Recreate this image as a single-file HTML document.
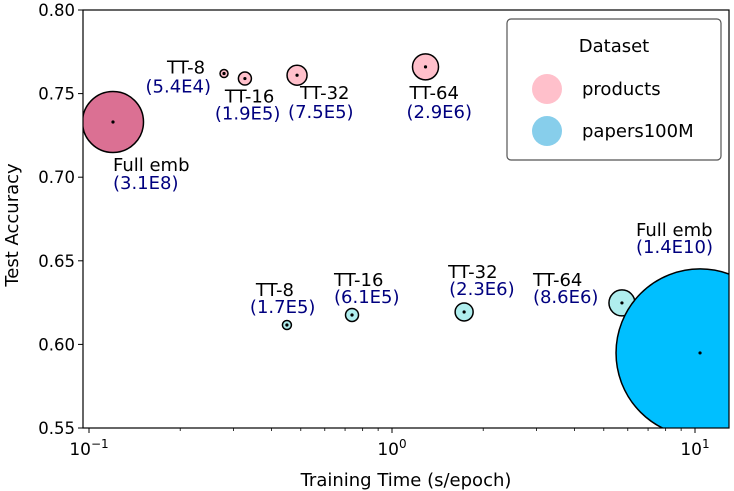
<!DOCTYPE html>
<html><head><meta charset="utf-8"><style>
body{margin:0;background:#fff}
svg{display:block;font-family:"DejaVu Sans","Liberation Sans",sans-serif}
</style></head><body>
<svg id="chart" width="734" height="491" viewBox="0 0 734 491" xmlns="http://www.w3.org/2000/svg"></svg>
<script>
const seriesNames = ["products", "papers100M"];
const prodLabels = ["Full emb", "TT-8", "TT-16", "TT-32", "TT-64"];
const prodParams = ["(3.1E8)", "(5.4E4)", "(1.9E5)", "(7.5E5)", "(2.9E6)"];
const prodTime = [0.12, 0.279, 0.327, 0.486, 1.29];
const prodAcc = [0.733, 0.762, 0.759, 0.761, 0.766];
const prodSize = [30.5, 4, 6.5, 10, 13];
const papLabels = ["TT-8", "TT-16", "TT-32", "TT-64", "Full emb"];
const papParams = ["(1.7E5)", "(6.1E5)", "(2.3E6)", "(8.6E6)", "(1.4E10)"];
const papTime = [0.45, 0.738, 1.73, 5.74, 10.39];
const papAcc = [0.6116, 0.6176, 0.6194, 0.6248, 0.5949];
const papSize = [4.5, 6.5, 9, 13, 84];
const yTicks = [0.55, 0.60, 0.65, 0.70, 0.75, 0.80];
const xDecades = [-1, 0, 1];

const NS = "http://www.w3.org/2000/svg";
const svg = document.getElementById("chart");
const L = 83, R = 729, T = 10, B = 428;
const FS = 18;
const xs = t => 392 + Math.log10(t) * 303;
const ys = v => B - (v - 0.55) / 0.25 * (B - T);
function el(tag, attrs, parent) {
  const e = document.createElementNS(NS, tag);
  for (const k in attrs) e.setAttribute(k, attrs[k]);
  (parent || svg).appendChild(e);
  return e;
}
function txt(s, x, y, attrs, parent) {
  const e = el("text", Object.assign({x: x, y: y, "font-size": FS}, attrs), parent);
  e.textContent = s;
  return e;
}
const defs = el("defs", {});
const cp = el("clipPath", {id: "clip"}, defs);
el("rect", {x: L, y: T, width: R - L, height: B - T}, cp);

const plot = el("g", {"clip-path": "url(#clip)"});



function drawSeries(times, accs, sizes, colorFn, name) {
  times.forEach((t, i) => {
    const c = el("circle", {cx: xs(t), cy: ys(accs[i]), r: sizes[i], fill: colorFn(i), stroke: "#000", "stroke-width": 1.5}, plot);
    
    
    const d = el("circle", {cx: xs(t), cy: ys(accs[i]), r: 1.6, fill: "#000"}, plot);
    
    
  });
}
drawSeries(prodTime, prodAcc, prodSize, i => i === 0 ? "#db7093" : "#ffc0cb", "products");
drawSeries(papTime, papAcc, papSize, i => i === 4 ? "#00bfff" : "#afeeee", "papers100m");

// label layout offsets relative to marker: [labelDx, labelDy, paramDx, paramDy, anchor]
const prodOff = [[0, 43, 0, 61, "start"], [-19, -6, -13, 13, "end"], [-20, 18, -30, 35, "start"], [3, 18, -9, 37, "start"], [-16, 26, -19, 45, "start"]];
const papOff = [[-31, -35, -37, -18, "start"], [-18, -35, -18, -18, "start"], [-16, -40, -15, -23, "start"], [-89, -23, -89, -6, "start"], [-64, -123, -64, -106, "start"]];
function drawLabels(times, accs, labels, params, off, name) {
  times.forEach((t, i) => {
    const x = xs(t), y = ys(accs[i]);
    const o = off[i];
    const a = txt(labels[i], x + o[0], y + o[1] + 6, {"text-anchor": o[4], fill: "#000"});
    
    
    const b = txt(params[i], x + o[2], y + o[3] + 6, {"text-anchor": o[4], fill: "#00007f"});
    
    
  });
}
drawLabels(prodTime, prodAcc, prodLabels, prodParams, prodOff, "products");
drawLabels(papTime, papAcc, papLabels, papParams, papOff, "papers100m");

const frame = el("rect", {x: L, y: T, width: R - L, height: B - T, fill: "none", stroke: "#000", "stroke-width": 1.2});



yTicks.forEach(v => {
  el("line", {x1: L - 5, x2: L, y1: ys(v), y2: ys(v), stroke: "#000", "stroke-width": 1});
  const t = txt(v.toFixed(2), L - 8, ys(v) + 6, {"text-anchor": "end", "font-size": 16.5});
  
  
});
xDecades.forEach(d => {
  const x = xs(Math.pow(10, d));
  el("line", {x1: x, x2: x, y1: B, y2: B + 5, stroke: "#000", "stroke-width": 1});
  const t = el("text", {x: x, y: B + 27, "font-size": 17, "text-anchor": "middle"});
  
  
  t.appendChild(document.createTextNode("10"));
  const s = el("tspan", {dy: -7, "font-size": 12}, t);
  s.textContent = d < 0 ? "\u2212" + (-d) : String(d);
  for (let m = 2; m <= 9; m++) {
    const xm = xs(m * Math.pow(10, d));
    if (xm > L && xm < R) el("line", {x1: xm, x2: xm, y1: B, y2: B + 3, stroke: "#000", "stroke-width": 0.8});
  }
});
const xt = txt("Training Time (s/epoch)", 406, 486, {"text-anchor": "middle"});


const yt = txt("Test Accuracy", 0, 0, {"text-anchor": "middle", transform: "translate(18,225) rotate(-90)"});



const lg = el("g", {});


el("rect", {x: 507, y: 19, width: 214, height: 141, rx: 4, fill: "#fff", stroke: "#555", "stroke-width": 1.2}, lg);
const lt = txt("Dataset", 614, 52, {"text-anchor": "middle"}, lg);


const legColors = ["#ffc0cb", "#87ceeb"];
seriesNames.forEach((n, i) => {
  const cy = 89 + i * 42;
  const c = el("circle", {cx: 547, cy: cy, r: 15, fill: legColors[i]}, lg);
  
  
  const t = txt(n, 582, cy + 6, {}, lg);
  
  
});
</script>
</body></html>
